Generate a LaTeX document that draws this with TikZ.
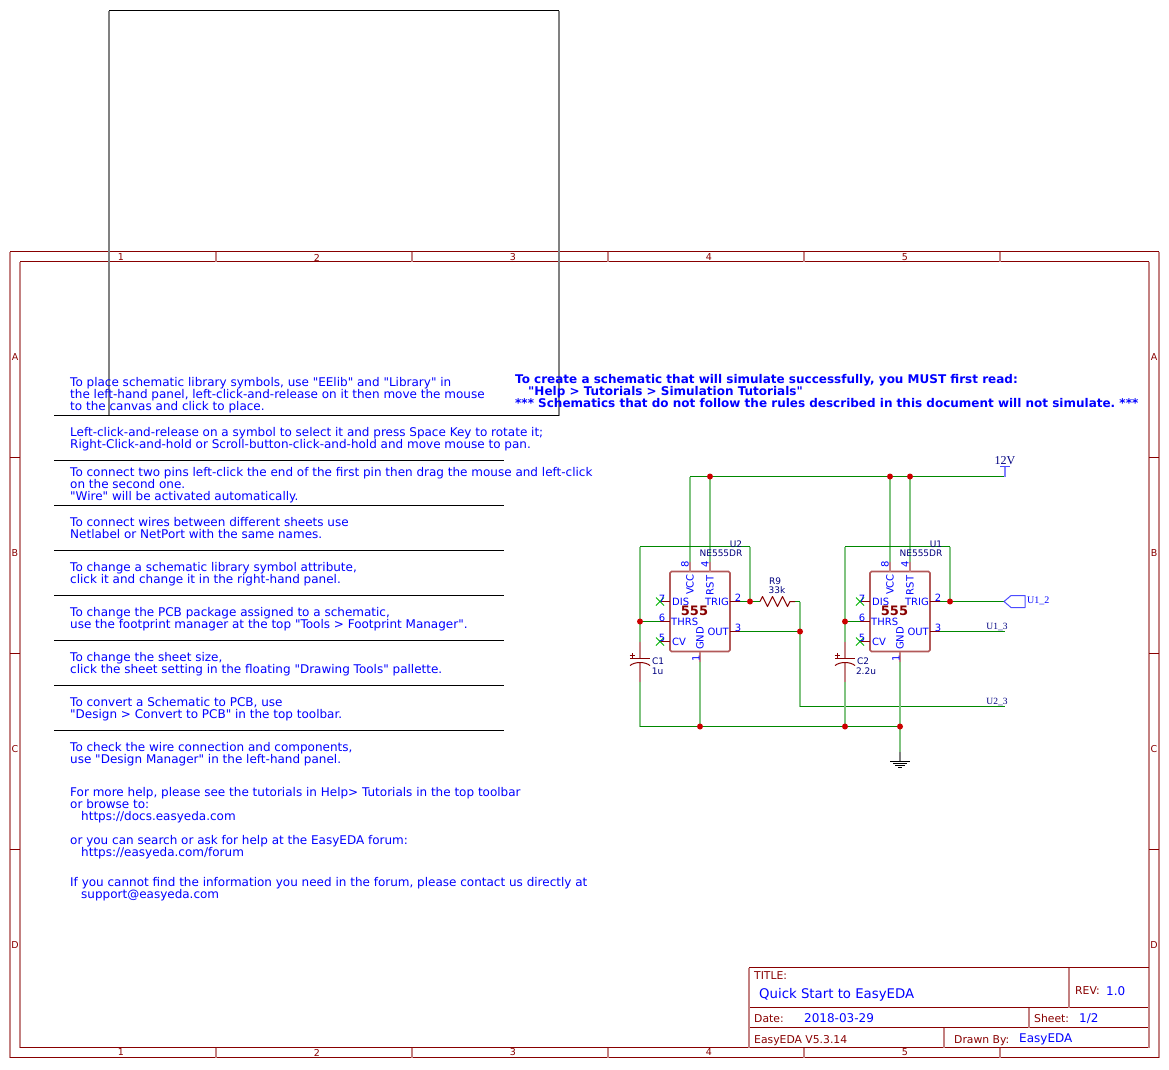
\documentclass[tikz,border=0pt]{standalone}
\usepackage{fontspec}
\setmainfont{DejaVu Sans}[Ligatures=TeXOff]
\newfontfamily\serifnet{Liberation Serif}
\definecolor{frameRed}{HTML}{880000}
\definecolor{wireGreen}{HTML}{008800}
\definecolor{textBlue}{HTML}{0000FF}
\definecolor{attrNavy}{HTML}{000080}
\definecolor{junctionRed}{HTML}{CC0000}
\pgfdeclarelayer{wires}
\pgfsetlayers{wires,main}
\newcommand{\fs}[1]{\fontsize{#1}{12}\selectfont\lineskiplimit=-20pt\relax\frenchspacing}
\newcommand{\fl}{\rule{0pt}{10pt}}
\tikzset{
  hframe/.style={draw=frameRed,line width=1pt},
  vframe/.style={draw=frameRed!50!white,line width=2pt},
  hblack/.style={draw=black,line width=1pt},
  vblack/.style={draw=black!50!white,line width=2pt},
  hwire/.style={draw=wireGreen,line width=1pt},
  vwire/.style={draw=wireGreen!50!white,line width=2pt},
  hnet/.style={draw=textBlue!70!white,line width=1pt},
  vnet/.style={draw=textBlue!50!white,line width=2pt},
  nocon/.style={draw=green!70!black,line width=0.8pt},
  junction/.style={circle,fill=junctionRed,draw=none,inner sep=0pt,minimum size=6pt},
  note/.style={font=\fs{12},text=textBlue,anchor=north west,inner sep=0pt,align=left},
  boldnote/.style={font=\fs{12}\bfseries,text=textBlue,anchor=north west,inner sep=0pt,align=left},
  tick/.style={font=\fs{9.5},text=frameRed,inner sep=0pt},
  tbred/.style={font=\fs{10.8},text=frameRed,inner sep=0pt,anchor=base west},
  tbblue/.style={font=\fs{12},text=textBlue,inner sep=0pt,anchor=base west},
  pinname/.style={font=\fs{10},text=textBlue,inner sep=0pt},
  pinnum/.style={font=\fs{10},text=textBlue,inner sep=0pt},
  attr/.style={font=\fs{9},text=attrNavy,inner sep=0pt},
  netlabel/.style={font=\serifnet\fs{9.5},text=attrNavy,inner sep=0pt},
}
\newcommand{\chipbody}{%
  \node[draw=frameRed!65!white,line width=1.6pt,rounded corners=1.5pt,minimum width=60pt,minimum height=80pt,inner sep=0pt,outer sep=0pt,anchor=north west] (body) at (670,571) {};
  \coordinate (vcc) at (690,561); \coordinate (vccin) at (690,571);
  \coordinate (rst) at (710,561); \coordinate (rstin) at (710,571);
  \coordinate (gnd) at (700,661); \coordinate (gndin) at (700,651);
  \coordinate (dis) at (660,601); \coordinate (disin) at (670,601);
  \coordinate (thrs) at (660,621); \coordinate (thrsin) at (670,621);
  \coordinate (cv) at (660,641); \coordinate (cvin) at (670,641);
  \coordinate (trig) at (740,601); \coordinate (trigin) at (730,601);
  \coordinate (out) at (740,631); \coordinate (outin) at (730,631);
  \foreach \a/\b in {vcc/vccin,rst/rstin,gnd/gndin}{\draw[vframe] (\a) -- (\b);}
  \foreach \a/\b in {dis/disin,thrs/thrsin,cv/cvin,trig/trigin,out/outin}{\draw[hframe] (\a) -- (\b);}
  \draw[nocon] (656,597) -- (664,605) (656,605) -- (664,597);
  \draw[nocon] (656,637) -- (664,645) (656,645) -- (664,637);
  \node[pinname,rotate=90] (nvcc) at (690,584) {VCC};
  \node[pinname,rotate=90] (nrst) at (710,585) {RST};
  \node[pinname,rotate=90] (ngnd) at (700,638) {GND};
  \node[pinname,anchor=west] (ndis) at (672,601) {DIS};
  \node[pinname,anchor=west] (nthrs) at (671,621) {THRS};
  \node[pinname,anchor=west] (ncv) at (672,641) {CV};
  \node[pinname,anchor=east] (ntrig) at (729,601) {TRIG};
  \node[pinname,anchor=east] (nout) at (729,631) {OUT};
  \node[pinnum,rotate=90] (n8) at (685,564) {8};
  \node[pinnum,rotate=90] (n4) at (705,564) {4};
  \node[pinnum,rotate=90] (n1) at (696,658) {1};
  \node[pinnum] (n7) at (662,598) {7};
  \node[pinnum] (n6) at (662,617) {6};
  \node[pinnum] (n5) at (662,637) {5};
  \node[pinnum] (n2) at (738,597) {2};
  \node[pinnum] (n3) at (738,627) {3};
  \node[font=\fs{13}\bfseries,text=frameRed,inner sep=0pt] (n555) at (694.5,610) {555};
}
\newcommand{\capsym}{%
  \coordinate (top) at (640,641); \coordinate (bot) at (640,681);
  \coordinate (p1) at (640,658); \coordinate (p2) at (640,662);
  \draw[vframe] (top) -- (p1) (p2) -- (bot);
  \draw[hframe] (630,658) -- (650,658);
  \draw[hframe] (630,665) .. controls (635,661) and (645,661) .. (650,665);
  \draw[hframe] (629.5,655) -- (634.5,655) (632,652.5) -- (632,657.5);
}
\begin{document}
\begin{tikzpicture}[x=1pt,y=-1pt]
\useasboundingbox (0,0) rectangle (1169,1069);
\begin{scope}[shift={(0,0.5)}]
% sheet frame
\draw[vframe] (10,251) -- (10,1057) (20,261) -- (20,1047) (1149,261) -- (1149,1047) (1159,251) -- (1159,1057);
\draw[hframe] (10,251) -- (1159,251) (20,261) -- (1149,261) (20,1047) -- (1149,1047) (10,1057) -- (1159,1057);
\foreach \x in {216,412,608,804,1000}{
  \draw[vframe] (\x,251) -- (\x,261);
  \draw[vframe] (\x,1047) -- (\x,1057);
}
\foreach \y in {457,653,849}{
  \draw[hframe] (10,\y) -- (20,\y);
  \draw[hframe] (1149,\y) -- (1159,\y);
}
\foreach \x/\t in {121/1,317/2,513/3,709/4,905/5}{
  \node[tick] at (\x,257) {\t};
  \node[tick] at (\x,1052) {\t};
}
\foreach \y/\t in {357/A,553/B,749/C,945/D}{
  \node[tick] at (15,\y) {\t};
  \node[tick] at (1154,\y) {\t};
}
% black rectangle and separators
\draw[vblack] (109,10) -- (109,415) (559,10) -- (559,415);
\draw[hblack] (109,10) -- (559,10) (109,415) -- (559,415);
\foreach \y in {415,460,505,550,595,640,685,730}{
  \draw[hblack] (54,\y) -- (504,\y);
}
% help notes
\node[note] (t1) at (70,376) {\fl To place schematic library symbols, use "EElib" and "Library" in\\the left-hand panel, left-click-and-release on it then move the mouse\\to the canvas and click to place.};
\node[note] (t2) at (70,426) {\fl Left-click-and-release on a symbol to select it and press Space Key to rotate it;\\Right-Click-and-hold or Scroll-button-click-and-hold and move mouse to pan.};
\node[note] (t3) at (70,466) {\fl To connect two pins left-click the end of the first pin then drag the mouse and left-click\\on the second one.\\"Wire" will be activated automatically.};
\node[note] (t4) at (70,516) {\fl To connect wires between different sheets use\\Netlabel or NetPort with the same names.};
\node[note] (t5) at (70,561) {\fl To change a schematic library symbol attribute,\\click it and change it in the right-hand panel.};
\node[note] (t6) at (70,606) {\fl To change the PCB package assigned to a schematic,\\use the footprint manager at the top "Tools > Footprint Manager".};
\node[note] (t7) at (70,651) {\fl To change the sheet size,\\click the sheet setting in the floating "Drawing Tools" pallette.};
\node[note] (t8) at (70,696) {\fl To convert a Schematic to PCB, use\\"Design > Convert to PCB" in the top toolbar.};
\node[note] (t9) at (70,741) {\fl To check the wire connection and components,\\use "Design Manager" in the left-hand panel.};
\node[note] (t10) at (70,786) {\fl For more help, please see the tutorials in Help> Tutorials in the top toolbar\\or browse to:\\\hspace*{11pt}https://docs.easyeda.com};
\node[note] (t11) at (70,834) {\fl or you can search or ask for help at the EasyEDA forum:\\\hspace*{11pt}https://easyeda.com/forum};
\node[note] (t12) at (70,876) {\fl If you cannot find the information you need in the forum, please contact us directly at\\\hspace*{11pt}support@easyeda.com};
\node[boldnote] (t13) at (515,373) {\fl To create a schematic that will simulate successfully, you MUST first read:\\\hspace*{13pt}"Help > Tutorials > Simulation Tutorials"\\*** Schematics that do not follow the rules described in this document will not simulate. ***};
% symbols
\begin{scope}[name prefix=u2-]\chipbody\end{scope}
\begin{scope}[name prefix=u1-,shift={(200,0)}]\chipbody\end{scope}
\begin{scope}[name prefix=c1-]\capsym\end{scope}
\begin{scope}[name prefix=c2-,shift={(205,0)}]\capsym\end{scope}
\node[attr] (lu2) at (736,544) {U2};
\node[attr] (lne2) at (721,553) {NE555DR};
\node[attr] (lu1) at (936,544) {U1};
\node[attr] (lne1) at (921,553) {NE555DR};
\node[attr] (lc1) at (658,661) {C1};
\node[attr] (vc1) at (657.5,671) {1u};
\node[attr] (lc2) at (863,661) {C2};
\node[attr] (vc2) at (866,671) {2.2u};
\node[attr] (lr9) at (775,581) {R9};
\node[attr] (vr9) at (777,590) {33k};
% resistor
\coordinate (r1) at (760,601); \coordinate (r2) at (790,601); \coordinate (r2b) at (795,601);
\draw[hframe,line join=round] (r1) -- ++(2.5,-5) -- ++(5,10) -- ++(5,-10) -- ++(5,10) -- ++(5,-10) -- ++(5,10) -- (r2) -- (r2b);
% junctions and net points
\node[junction] (ja) at (710,476) {};
\node[junction] (jb) at (890,476) {};
\node[junction] (jc) at (910,476) {};
\node[junction] (jd) at (750,601) {};
\node[junction] (je) at (640,621) {};
\node[junction] (jf) at (800,631) {};
\node[junction] (jg) at (845,621) {};
\node[junction] (jh) at (950,601) {};
\node[junction] (ji) at (700,726) {};
\node[junction] (jj) at (845,726) {};
\node[junction] (jk) at (900,726) {};
\coordinate (vccpt) at (1005,476);
\coordinate (c2l) at (690,476);
\coordinate (lefttop2) at (640,546);
\coordinate (righttop2) at (750,546);
\coordinate (lefttop1) at (845,546);
\coordinate (righttop1) at (950,546);
\coordinate (portpt) at (1004,601);
\coordinate (u13end) at (1005,631);
\coordinate (u23end) at (1005,706);
\coordinate (u23corner) at (800,706);
\coordinate (r9exit) at (800,601);
\coordinate (botleft) at (640,726);
\coordinate (gndtop) at (900,751);
\coordinate (gndbar) at (900,761);
% wires
\begin{pgfonlayer}{wires}
\draw[hwire] (c2l) -- (vccpt);
\draw[vwire] (u2-vcc) -- (c2l);
\draw[vwire] (u2-rst) -- (ja.center);
\draw[vwire] (u1-vcc) -- (jb.center);
\draw[vwire] (u1-rst) -- (jc.center);
\draw[vwire] (c1-top) -- (lefttop2);
\draw[hwire] (lefttop2) -- (righttop2);
\draw[vwire] (righttop2) -- (jd.center);
\draw[hwire] (u2-trig) -- (r1);
\draw[hwire] (r2b) -- (r9exit);
\draw[vwire] (r9exit) -- (u23corner);
\draw[hwire] (u23corner) -- (u23end);
\draw[hwire] (u2-out) -- (jf.center);
\draw[hwire] (u2-thrs) -- (je.center);
\draw[vwire] (u2-gnd) -- (ji.center);
\draw[vwire] (c1-bot) -- (botleft);
\draw[hwire] (botleft) -- (jk.center);
\draw[vwire] (c2-top) -- (lefttop1);
\draw[hwire] (lefttop1) -- (righttop1);
\draw[vwire] (righttop1) -- (jh.center);
\draw[hwire] (u1-trig) -- (portpt);
\draw[hwire] (u1-out) -- (u13end);
\draw[hwire] (u1-thrs) -- (jg.center);
\draw[vwire] (c2-bot) -- (jj.center);
\draw[vwire] (u1-gnd) -- (gndtop);
\end{pgfonlayer}
% power net flag
\coordinate (flagbar) at (1005,466);
\draw[vnet] (vccpt) -- (flagbar);
\draw[hnet] (1000,466) -- (1010,466);
\node[netlabel,font=\serifnet\fs{12}] (l12v) at (1005,460) {12V};
% net port
\draw[hnet,fill=white,line join=round] (portpt) -- (1011,595) -- (1025,595) -- (1025,607) -- (1011,607) -- cycle;
\node[netlabel,font=\serifnet\fs{10},anchor=west,text=textBlue] (lport) at (1027,600) {U1\_2};
\node[netlabel] (lu13) at (997,626) {U1\_3};
\node[netlabel] (lu23) at (997,701) {U2\_3};
% ground
\draw[vblack] (gndtop) -- (gndbar);
\draw[hblack] (890,761) -- (910,761) (893,763) -- (907,763) (895,765) -- (905,765) (898,767) -- (902,767);
% title block
\draw[hframe] (749,967) -- (1149,967) (749,1007) -- (1149,1007) (749,1027) -- (1149,1027) (749,1047) -- (1149,1047);
\draw[vframe] (749,967) -- (749,1047) (1149,967) -- (1149,1047) (1069,967) -- (1069,1007) (1029,1007) -- (1029,1027) (944,1027) -- (944,1047);
\node[tbred] (tbt) at (754,979) {TITLE:};
\node[tbblue,font=\fs{13.3}] (tbtv) at (759,998) {Quick Start to EasyEDA};
\node[tbred] (tbr) at (1075,994) {REV:};
\node[tbblue] (tbrv) at (1106,995) {1.0};
\node[tbred] (tbd) at (754,1022) {Date:};
\node[tbblue] (tbdv) at (804,1022) {2018-03-29};
\node[tbred] (tbs) at (1034,1022) {Sheet:};
\node[tbblue] (tbsv) at (1079,1022) {1/2};
\node[tbred] (tbe) at (754,1043) {EasyEDA V5.3.14};
\node[tbred] (tbb) at (954,1043) {Drawn By:};
\node[tbblue] (tbbv) at (1019,1042) {EasyEDA};
\end{scope}
\end{tikzpicture}
\end{document}
